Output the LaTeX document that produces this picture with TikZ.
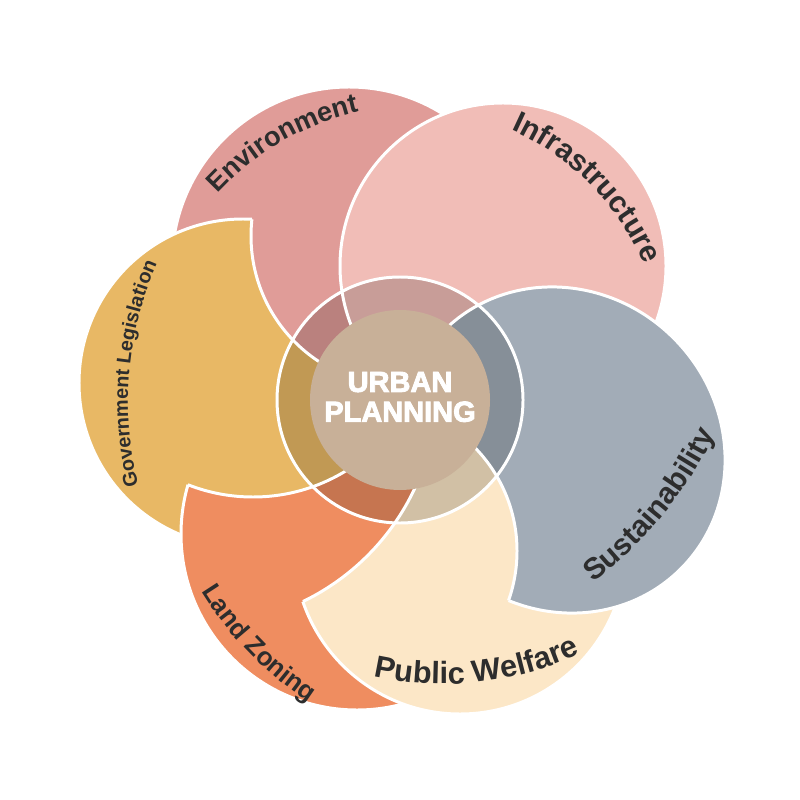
\documentclass[tikz,border=0pt]{standalone}
\usepackage{fontspec}
\setmainfont{Liberation Sans}
\newfontfamily\hubfont[FakeBold=3]{Liberation Sans Bold}
\usetikzlibrary{decorations.text}
\definecolor{envcol}{HTML}{E09C98}
\definecolor{infracol}{HTML}{F1BDB7}
\definecolor{suscol}{HTML}{A2ACB7}
\definecolor{pwcol}{HTML}{FCE7C7}
\definecolor{lzcol}{HTML}{EF8D60}
\definecolor{govcol}{HTML}{E8B865}
\definecolor{hubcol}{HTML}{C8B098}
\definecolor{labelcol}{HTML}{2D2D2D}
\tikzset{petalrim/.style = {draw = white, line width = 1.7pt}}
\tikzset{arctext/.style = {decorate, decoration = {text along path, text align = center, text = {#1}}}}
\tikzset{hubtext/.style = {text = white, align = center, font = \hubfont\fontsize{16.5}{17}\selectfont}}
\newcommand{\lbl}[1]{\bfseries\fontsize{#1}{#1}\selectfont\color{labelcol}}
\newcommand{\petal}[3]{%
    \begin{scope}[even odd rule]
      \clip (-50, -50) rectangle (850, 850) #3;
      \filldraw [petalrim, fill = #1] #2;
    \end{scope}
    \begin{scope}
      \clip #2;
      \draw [petalrim] #3;
    \end{scope}}
\newcommand{\allpetals}[1]{%
    \filldraw [petalrim, fill = envcol!#1!black] (349, 264) circle [radius = 177];
    \petal{govcol!#1!black}{(243, 383) circle [radius = 164]}{(401, 236) circle [radius = 150]}
    \petal{lzcol!#1!black}{(357, 534) circle [radius = 176]}{(253, 319) circle [radius = 178]}
    \petal{pwcol!#1!black}{(460, 548) circle [radius = 166]}{(200, 388) circle [radius = 237]}
    \filldraw [petalrim, fill = infracol!#1!black] (503, 266) circle [radius = 163];
    \petal{suscol!#1!black}{[rotate around = {-45:(562, 450)}] (562, 450) ellipse [x radius = 168, y radius = 158]}{(369, 551) circle [radius = 148]}}

\begin{document}
\begin{tikzpicture}[x = 0.02cm, y = -0.02cm]
    \useasboundingbox (0, 0) rectangle (800, 800);
    \fill [white] (0, 0) rectangle (800, 800);

    \allpetals{100}
    \begin{scope}
      \clip (400, 400) circle [radius = 123];
      \allpetals{83}
    \end{scope}
    \draw [petalrim] (400, 400) circle [radius = 123];
    \fill [hubcol] (400, 400) circle [radius = 90];
    \node [hubtext] (hub) at (400, 397) {URBAN\\PLANNING};

    \path [arctext = {|\lbl{15.5}|Environment}] ([shift = {(205:275)}] 420, 380) arc [start angle = 205, end angle = 275, radius = 275];
    \path [arctext = {|\lbl{17}|Infrastructure}] ([shift = {(280:260)}] 405, 367) arc [start angle = 280, end angle = 351, radius = 260];
    \path [arctext = {|\lbl{17}|Sustainability}] ([shift = {(57.4:418)}] 340, 250) arc [start angle = 57.4, end angle = 21.4, radius = 418];
    \path [arctext = {|\lbl{17.5}|Public Welfare}] ([shift = {(108.8:322)}] 444, 362) arc [start angle = 108.8, end angle = 58.8, radius = 322];
    \path [arctext = {|\lbl{14.8}|Land Zoning}] ([shift = {(153.8:357)}] 505, 404) arc [start angle = 153.8, end angle = 117.8, radius = 357];
    \path [arctext = {|\lbl{11.3}|Government Legislation}] ([shift = {(159.8:345)}] 473, 402) arc [start angle = 159.8, end angle = 209.8, radius = 345];
  \end{tikzpicture}
\end{document}
